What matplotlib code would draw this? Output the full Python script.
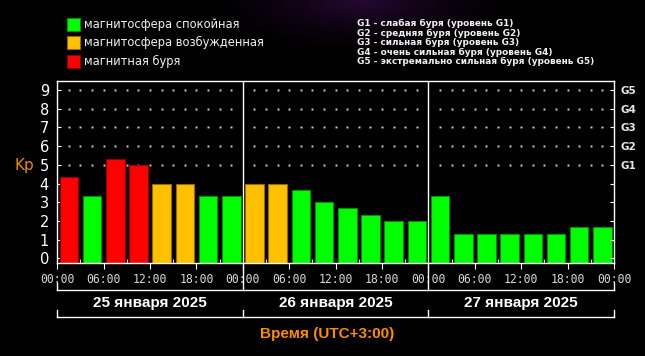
import numpy as np
import matplotlib
matplotlib.use("Agg")
import matplotlib.pyplot as plt
from matplotlib.patches import Rectangle

# ---- data ----
kp_values = [4.33, 3.33, 5.33, 5.0, 4.0, 4.0, 3.33, 3.33,
             4.0, 4.0, 3.67, 3.0, 2.67, 2.33, 2.0, 2.0,
             3.33, 1.33, 1.33, 1.33, 1.33, 1.33, 1.67, 1.67]
kp_levels = ['r', 'g', 'r', 'r', 'y', 'y', 'g', 'g',
             'y', 'y', 'g', 'g', 'g', 'g', 'g', 'g',
             'g', 'g', 'g', 'g', 'g', 'g', 'g', 'g']
hour_ticks = [0, 6, 12, 18, 24, 30, 36, 42, 48, 54, 60, 66, 72]
hour_labels = ['00:00', '06:00', '12:00', '18:00'] * 3 + ['00:00']
day_labels = ['25 января 2025', '26 января 2025', '27 января 2025']
g_levels = [5, 6, 7, 8, 9]
g_labels = ['G1', 'G2', 'G3', 'G4', 'G5']
legend_labels = ['магнитосфера спокойная', 'магнитосфера возбужденная', 'магнитная буря']
g_legend = ['G1 - слабая буря (уровень G1)',
            'G2 - средняя буря (уровень G2)',
            'G3 - сильная буря (уровень G3)',
            'G4 - очень сильная буря (уровень G4)',
            'G5 - экстремально сильная буря (уровень G5)']

face = {'g': '#00ff00', 'y': '#ffc000', 'r': '#ff0000'}
edge = {'g': '#009000', 'y': '#9a6a00', 'r': '#900000'}

W, H = 645, 356
fig = plt.figure(figsize=(W / 100, H / 100), dpi=100, facecolor='black')

def fx(px):
    return px / W

def fy(py):
    return 1 - py / H

# purple glow background
bg = fig.add_axes([0, 0, 1, 1], zorder=-10)
gx, gy = np.meshgrid(np.arange(W), np.arange(H))
r = np.sqrt(((gx - 360) / 160.0) ** 2 + ((gy - 0) / 55.0) ** 2)
a = np.clip(1 - r, 0, 1) ** 1.5
img = np.zeros((H, W, 3))
img[..., 0] = 0.15 * a
img[..., 1] = 0.03 * a
img[..., 2] = 0.20 * a
bg.imshow(img, aspect='auto', extent=[0, W, H, 0])
bg.axis('off')

L, R, T, B = 57.3, 614, 81, 263.3
ax = fig.add_axes([fx(L), fy(B), fx(R - L), (B - T) / H])
ax.set_facecolor('black')
ymin, ymax = -0.26, 9.48
ax.set_xlim(0, 72)
ax.set_ylim(ymin, ymax)

# dotted grid for G levels
dots_x = [1.5 * k for k in range(1, 48) if k % 16 != 0]
for gl in g_levels:
    ax.plot(dots_x, [gl] * len(dots_x), linestyle='none', marker='s',
            markersize=1.4, markeredgewidth=0, color='#d0d0d0', zorder=1)

# bars
centers = [1.5 + 3 * i for i in range(len(kp_values))]
for c, v, lv in zip(centers, kp_values, kp_levels):
    ax.bar(c, v - ymin, bottom=ymin, width=2.4, color=face[lv],
           edgecolor=edge[lv], linewidth=0.8, zorder=2)

# day separators
for d in (24, 48):
    ax.axvline(d, color='white', linewidth=1.0, zorder=3)

for s in ax.spines.values():
    s.set_color('white')
    s.set_linewidth(1.0)

ax.set_yticks(range(10))
ax.set_yticklabels([str(i) for i in range(10)], fontsize=10.5, color='white')
ax.tick_params(axis='y', direction='in', length=3, color='white', pad=6)
ax.set_xticks(hour_ticks)
ax.set_xticklabels(hour_labels, family='DejaVu Sans Mono', fontsize=8.3, color='#d8d8d8')
ax.tick_params(axis='x', direction='out', length=4, color='white', pad=3)
ax.set_xticks([3 + 6 * k for k in range(12)], minor=True)
ax.tick_params(axis='x', which='minor', direction='in', length=3, color='white')

ax2 = ax.twinx()
ax2.set_ylim(ymin, ymax)
ax2.set_yticks(range(10))
ax2.set_yticklabels([''] * 5 + g_labels, fontsize=7.5, fontweight='bold', color='#e8e8e8')
ax2.tick_params(axis='y', direction='in', length=3, color='white', pad=5)
for s in ax2.spines.values():
    s.set_visible(False)

# brackets below axis (pixel coords in figure)
def hline(x0, x1, y):
    fig.add_artist(plt.Line2D([fx(x0), fx(x1)], [fy(y), fy(y)], color='white', lw=1.0))

def vline(x, y0, y1):
    fig.add_artist(plt.Line2D([fx(x), fx(x)], [fy(y0), fy(y1)], color='white', lw=1.0))

def hx(h):
    return L + (R - L) * h / 72.0

hline(L, R, 290)
for h in (0, 72):
    vline(hx(h), 283, 290)
for h in (24, 48):
    vline(hx(h), 263, 290)
hline(L, R, 317)
for h in (0, 24, 48, 72):
    vline(hx(h), 310, 317)

for i, lab in enumerate(day_labels):
    fig.text(fx(hx(12 + 24 * i)), fy(303), lab, ha='center', va='center',
             fontsize=11, fontweight='bold', color='white',
             family=['Liberation Sans', 'DejaVu Sans'])

fig.text(fx(327), fy(334), 'Время (UTC+3:00)', ha='center', va='center',
         fontsize=11, fontweight='bold', color='#ff8c00',
         family=['Liberation Sans', 'DejaVu Sans'])
fig.text(fx(24), fy(166), 'Kp', ha='center', va='center', fontsize=11, color='#f08a00')

# legend
for i, (lab, key) in enumerate(zip(legend_labels, ['g', 'y', 'r'])):
    yc = 24.5 + 18.3 * i
    fig.add_artist(Rectangle((fx(67), fy(yc + 6.5)), fx(13), 13 / H,
                             facecolor=face[key], edgecolor=edge[key], lw=0.8))
    fig.text(fx(84), fy(yc), lab, ha='left', va='center', fontsize=8.3, color='#f0f0f0')

for i, lab in enumerate(g_legend):
    fig.text(fx(357), fy(23.5 + 9.5 * i), lab, ha='left', va='center',
             fontsize=6.4, fontweight='bold', color='#f0f0f0')

fig.savefig('out.png', dpi=100, facecolor='black')
